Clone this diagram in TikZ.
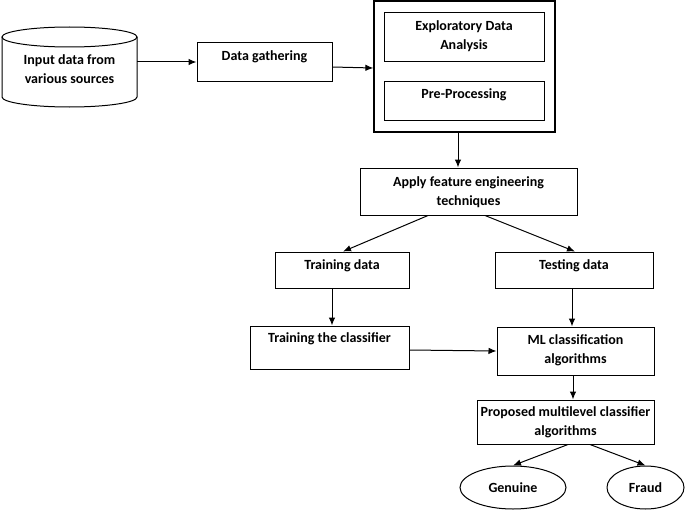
\documentclass[tikz,border=0pt]{standalone}
\usepackage{fontspec}
\setmainfont{Carlito}
\usetikzlibrary{arrows.meta,shapes.geometric}
\tikzset{
  box/.style={draw, line width=1pt, rectangle, inner sep=0pt},
  oval/.style={draw, line width=1pt, ellipse, inner sep=0pt},
  lbl/.style={inner sep=0pt, font=\bfseries\fontsize{14}{19}\selectfont, align=center},
  arr/.style={line width=1pt, -{Latex[length=8pt,width=6.5pt]}},
}
\begin{document}
\begin{tikzpicture}[x=1pt,y=-1pt]
\useasboundingbox (0,0) rectangle (685,511);
% cylinder
\draw[line width=1pt] (2,37) -- (2,97) arc[start angle=180,end angle=0,x radius=67.5,y radius=10] -- (137,37);
\draw[line width=1pt] (69.5,37) ellipse[x radius=67.5,y radius=10];
\node[minimum width=135pt, minimum height=60pt, inner sep=0pt] (cyl) at (69.5,70) {};
\node[lbl] (cylt) at (69.5,69) {Input data from\\various sources};
% data gathering
\node[box, minimum width=135pt, minimum height=38pt] (dg) at (264.5,62) {};
\node[lbl] (dgt) at (264.5,57) {Data gathering};
% outer
\node[draw, line width=1.3pt, minimum width=181pt, minimum height=131pt, inner sep=0pt] (outer) at (464.5,66.5) {};
\node[box, minimum width=160pt, minimum height=49pt] (eda) at (464,37.5) {};
\node[lbl] (edat) at (464,36.5) {Exploratory Data\\Analysis};
\node[box, minimum width=160pt, minimum height=39pt] (pp) at (464,100.5) {};
\node[lbl] (ppt) at (464,95) {Pre-Processing};
% apply
\node[box, minimum width=217pt, minimum height=47pt] (fe) at (468.5,191.5) {};
\node[lbl] (fet) at (468.5,192) {Apply feature engineering\\techniques};
% training/testing data
\node[box, minimum width=134pt, minimum height=36pt] (trd) at (342,270) {};
\node[lbl] (trdt) at (342,266) {Training data};
\node[box, minimum width=158pt, minimum height=36pt] (ted) at (574,270) {};
\node[lbl] (tedt) at (574,266) {Testing data};
% classifier
\node[box, minimum width=159pt, minimum height=43pt] (tc) at (329.5,347.5) {};
\node[lbl] (tct) at (329.5,339) {Training the classifier};
\node[box, minimum width=157pt, minimum height=48pt] (ml) at (575.5,351) {};
\node[lbl] (mlt) at (575.5,350) {ML classification\\algorithms};
% proposed
\node[box, minimum width=177pt, minimum height=44pt] (pm) at (565.5,422) {};
\node[lbl] (pmt) at (565.5,422.5) {Proposed multilevel classifier\\algorithms};
% ovals
\node[oval, minimum width=106pt, minimum height=43pt] (gen) at (513,487.5) {};
\node[lbl] (gent) at (513,488) {Genuine};
\node[oval, minimum width=77pt, minimum height=43pt] (fr) at (645.5,487.5) {};
\node[lbl] (frt) at (645.5,488) {Fraud};
% connectors
\draw[arr] (cyl.east |- 0,62) -- (dg.west |- 0,62);
\draw[arr] (dg.east |- 0,67) -- (outer.west |- 0,68);
\draw[arr] (outer.south -| 458,0) -- (fe.north -| 458,0);
\draw[arr] (fe.south -| 428,0) -- (trd.north -| 343,0);
\draw[arr] (fe.south -| 485,0) -- (ted.north -| 575,0);
\draw[arr] (trd.south -| 332,0) -- (tc.north -| 332,0);
\draw[arr] (ted.south -| 572,0) -- (ml.north -| 572,0);
\draw[arr] (tc.east |- 0,350) -- (ml.west |- 0,351);
\draw[arr] (ml.south -| 573,0) -- (pm.north -| 573,0);
\draw[arr] (pm.south -| 568,0) -- (gen.north);
\draw[arr] (pm.south -| 590,0) -- (fr.north);
\end{tikzpicture}
\end{document}
